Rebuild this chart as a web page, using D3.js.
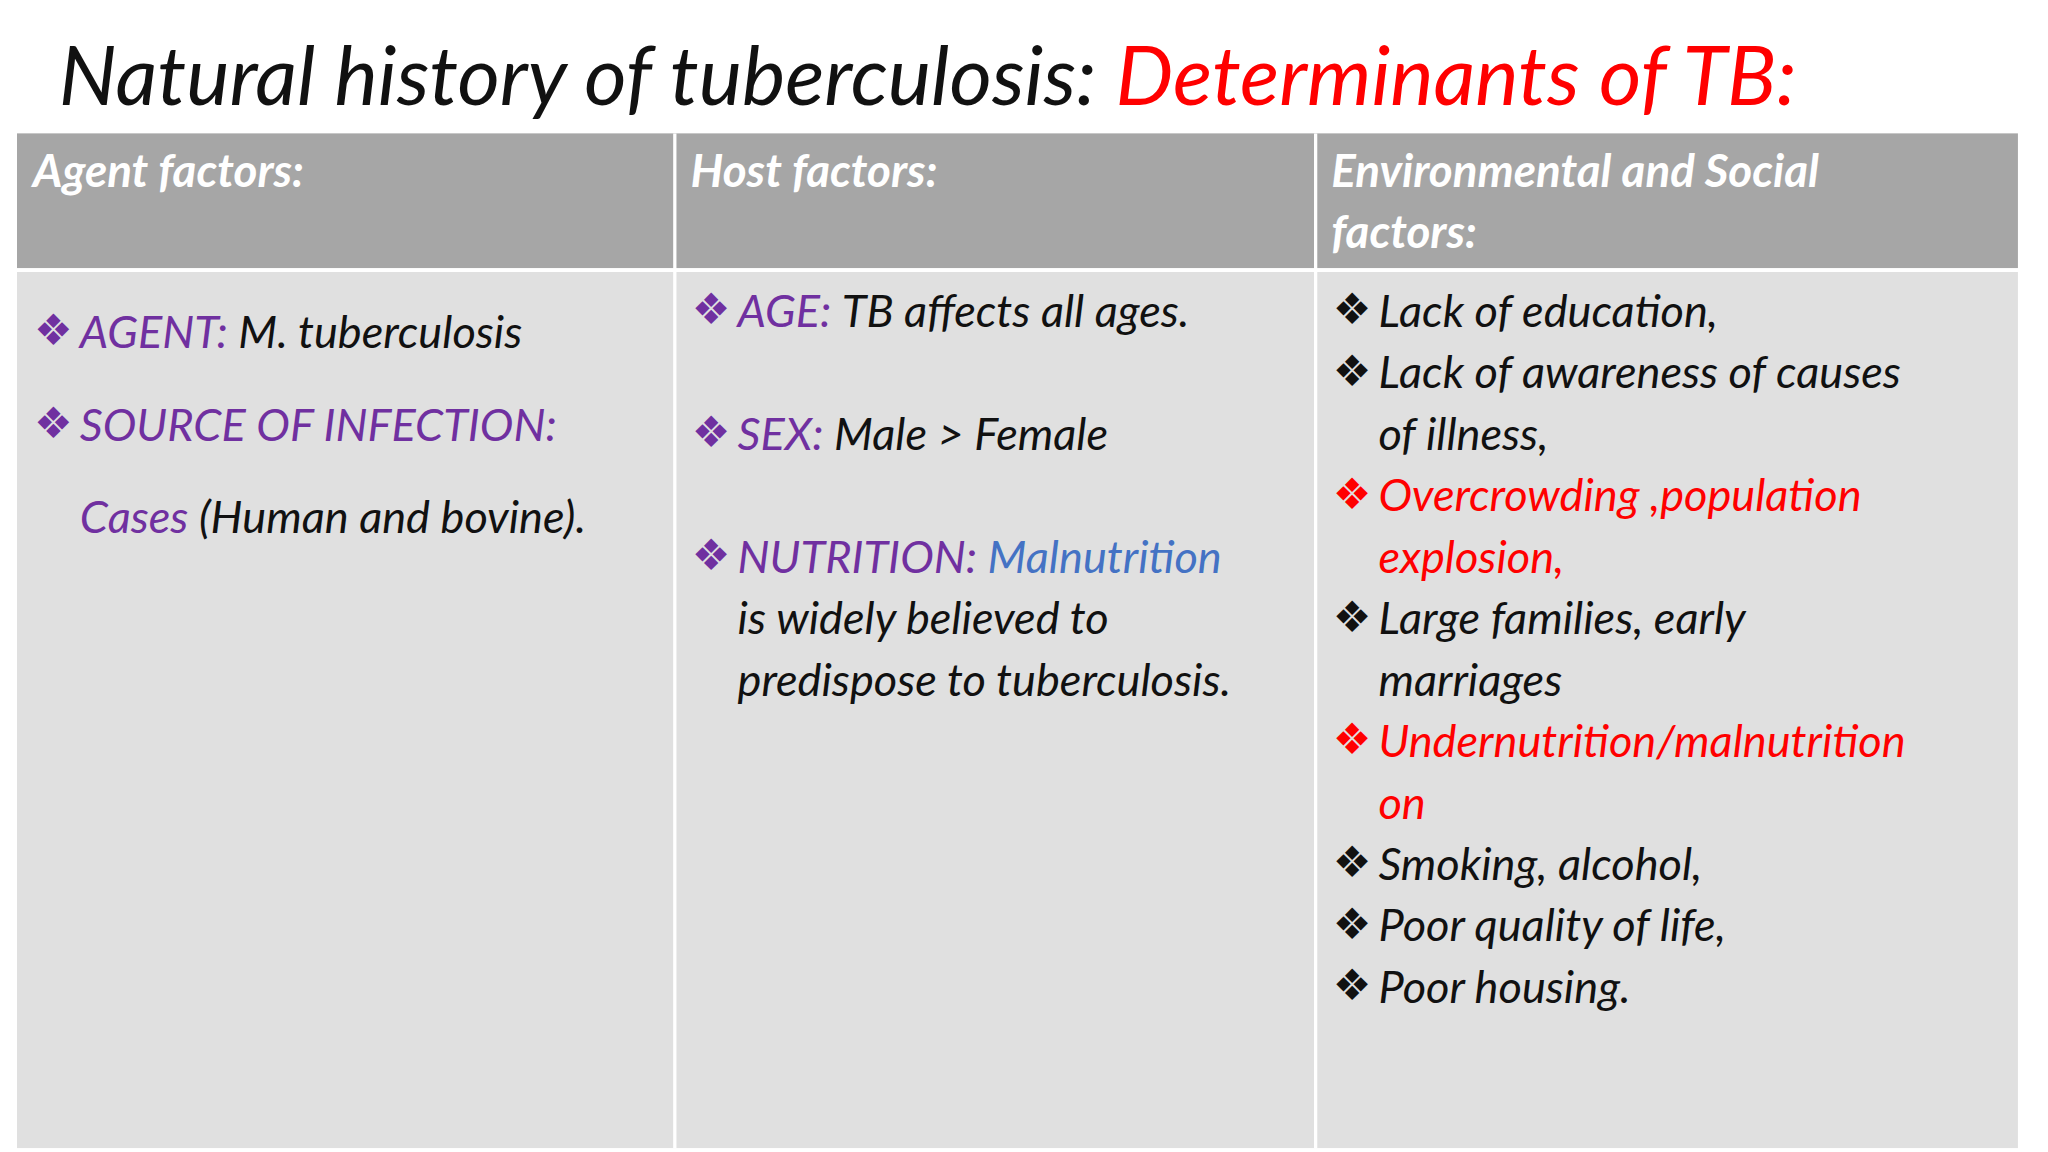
<!DOCTYPE html>
<html><head><meta charset="utf-8">
<script src="https://cdn.jsdelivr.net/npm/d3@7"></script>
<style>body{margin:0;background:#fff;overflow:hidden}</style>
</head><body>
<svg id="slide"></svg>
<script>
const W = 1566, H = 881;
const PURPLE = '#7030a0', BLUE = '#4472c4', RED = '#ff0000', BLACK = '#111';

const titleParts = [["Natural history of tuberculosis: ", BLACK], ["Determinants of TB:", RED]];
const headers = [["Agent factors:"], ["Host factors:"], ["Environmental and Social", "factors:"]];

// each row: [line index, bullet colour or null, [[text, colour], ...]]
const agentRows = [
  [0, PURPLE, [["AGENT: ", PURPLE], ["M. tuberculosis", BLACK]]],
  [1.5, PURPLE, [["SOURCE OF INFECTION:", PURPLE]]],
  [3, null, [["Cases ", PURPLE], ["(Human and bovine).", BLACK]]]
];
const hostRows = [
  [0, PURPLE, [["AGE: ", PURPLE], ["TB affects all ages.", BLACK]]],
  [2, PURPLE, [["SEX: ", PURPLE], ["Male > Female", BLACK]]],
  [4, PURPLE, [["NUTRITION: ", PURPLE], ["Malnutrition", BLUE]]],
  [5, null, [["is widely believed to", BLACK]]],
  [6, null, [["predispose to tuberculosis.", BLACK]]]
];
const envRows = [
  [0, BLACK, [["Lack of education,", BLACK]]],
  [1, BLACK, [["Lack of awareness of causes", BLACK]]],
  [2, null, [["of illness,", BLACK]]],
  [3, RED, [["Overcrowding ,population", RED]]],
  [4, null, [["explosion,", RED]]],
  [5, BLACK, [["Large families, early", BLACK]]],
  [6, null, [["marriages", BLACK]]],
  [7, RED, [["Undernutrition/malnutrition", RED]]],
  [8, null, [["on", RED]]],
  [9, BLACK, [["Smoking, alcohol,", BLACK]]],
  [10, BLACK, [["Poor quality of life,", BLACK]]],
  [11, BLACK, [["Poor housing.", BLACK]]]
];
const columns = [
  {rows: agentRows, top: 266, step: 47.3},
  {rows: hostRows, top: 250, step: 47},
  {rows: envRows, top: 250, step: 47}
];
const colEdges = [13, 516, 1006, 1543];

const svg = d3.select('#slide')
  .attr('width', 2048).attr('height', 1152)
  .attr('viewBox', `0 0 ${W} ${H}`)
  .attr('preserveAspectRatio', 'none');

const FONT = 'Lato, "Open Sans", sans-serif';

const title = svg.append('text')
  .attr('x', 45).attr('y', 80)
  .style('font-family', FONT).style('font-style', 'italic')
  .style('font-size', '62.5px');
title.selectAll('tspan').data(titleParts).join('tspan')
  .attr('fill', d => d[1]).text(d => d[0]);

const x = d3.scaleOrdinal().domain([0, 1, 2]).range(colEdges.slice(0, 3));

// header + body cells
[0, 1, 2].forEach(i => {
  const x0 = colEdges[i], x1 = colEdges[i + 1];
  svg.append('rect').attr('x', x0).attr('y', 102).attr('width', x1 - x0).attr('height', 103).attr('fill', '#a6a6a6');
  svg.append('rect').attr('x', x0).attr('y', 208).attr('width', x1 - x0).attr('height', 670).attr('fill', '#e0e0e0');
  svg.append('text')
    .attr('fill', '#fff').style('font-family', FONT).style('font-style', 'italic')
    .style('font-weight', 'bold').style('font-size', '35px')
    .selectAll('tspan').data(headers[i]).join('tspan')
    .attr('x', x0 + 12).attr('y', (d, j) => 143 + j * 47).text(d => d);
});
// white separators
svg.selectAll('line.sep').data(colEdges.slice(1, 3)).join('line')
  .attr('x1', d => d).attr('x2', d => d).attr('y1', 102).attr('y2', 878)
  .attr('stroke', '#fff').attr('stroke-width', 2.5);

columns.forEach((col, i) => {
  const x0 = x(i);
  const g = svg.append('g');
  col.rows.forEach(([line, bullet, parts]) => {
    const y = col.top + line * col.step;
    if (bullet) {
      g.append('text').attr('x', x0 + 13).attr('y', y - 2)
        .attr('fill', bullet).style('font-family', 'DejaVu Sans').style('font-size', '33px')
        .text('\u2756');
    }
    const t = g.append('text').attr('x', x0 + 48).attr('y', y)
      .style('font-family', FONT).style('font-style', 'italic').style('font-size', '34.5px');
    t.selectAll('tspan').data(parts).join('tspan').attr('fill', d => d[1]).text(d => d[0]);
  });
});
</script>
</body></html>
